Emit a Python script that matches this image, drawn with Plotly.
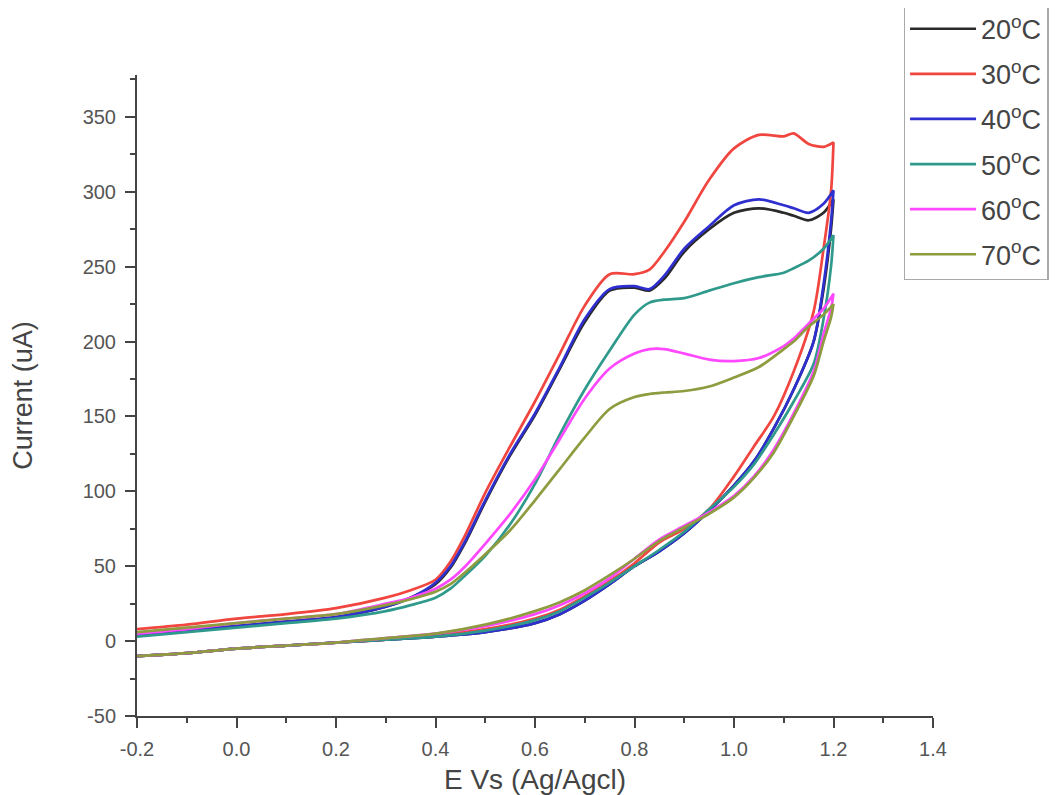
import plotly.graph_objects as go

# Forward (anodic) scan potentials, V
E_fwd = [-0.2, -0.1, 0.0, 0.1, 0.2, 0.3, 0.35, 0.4, 0.43, 0.46, 0.5, 0.55, 0.6, 0.65, 0.7,
         0.75, 0.8, 0.83, 0.86, 0.9, 0.95, 1.0, 1.05, 1.1, 1.12, 1.15, 1.18, 1.2]
# Reverse scan potentials, V
E_rev = [1.2, 1.195, 1.18, 1.16, 1.12, 1.08, 1.04, 1.0, 0.95, 0.9, 0.85, 0.8, 0.75,
         0.7, 0.65, 0.6, 0.5, 0.4, 0.3, 0.2, 0.1, 0.0, -0.1, -0.2]

labels = ["20<sup>o</sup>C", "30<sup>o</sup>C", "40<sup>o</sup>C",
          "50<sup>o</sup>C", "60<sup>o</sup>C", "70<sup>o</sup>C"]

x_ticks = [-0.2, 0.0, 0.2, 0.4, 0.6, 0.8, 1.0, 1.2, 1.4]
x_ticktext = ["-0.2", "0.0", "0.2", "0.4", "0.6", "0.8", "1.0", "1.2", "1.4"]
y_ticks = [-50, 0, 50, 100, 150, 200, 250, 300, 350]
y_ticktext = ["-50", "0", "50", "100", "150", "200", "250", "300", "350"]

# Current (uA), forward scan
I20_fwd = [4, 7, 10, 13, 16, 23, 29, 38, 49, 66, 93, 124, 151, 182, 213, 234, 236, 234, 242, 260, 275, 286, 289, 286, 284, 281, 286, 295]
I30_fwd = [8, 11, 15, 18, 22, 29, 34, 41, 53, 71, 99, 130, 160, 192, 224, 245, 245, 248, 260, 280, 308, 329, 338, 337, 339, 332, 330, 333]
I40_fwd = [4, 7, 10, 13, 16, 23, 29, 39, 50, 67, 94, 125, 152, 183, 215, 235, 237, 235, 244, 262, 277, 291, 295, 291, 289, 286, 292, 301]
I50_fwd = [3, 6, 9, 12, 15, 20, 24, 29, 35, 44, 57, 78, 105, 138, 168, 194, 218, 226, 228, 229, 234, 239, 243, 246, 249, 254, 262, 271]
I60_fwd = [5, 8, 12, 15, 18, 25, 29, 35, 41, 50, 65, 85, 108, 135, 162, 182, 192, 195, 195, 192, 188, 187, 189, 197, 202, 212, 222, 232]
I70_fwd = [6, 9, 12, 15, 18, 24, 28, 33, 38, 46, 58, 74, 94, 115, 136, 155, 163, 165, 166, 167, 170, 176, 183, 195, 200, 210, 218, 225]

# Current (uA), reverse scan
I20_rev = [295, 275, 235, 200, 168, 142, 120, 104, 87, 72, 60, 50, 38, 27, 18, 12, 6, 3, 1, -1, -3, -5, -8, -10]
I30_rev = [333, 300, 262, 220, 180, 150, 130, 110, 88, 75, 66, 52, 40, 30, 21, 15, 8, 4, 1, -1, -3, -5, -8, -10]
I40_rev = [301, 280, 238, 200, 168, 142, 120, 104, 87, 72, 60, 50, 38, 27, 18, 12, 6, 3, 1, -1, -3, -5, -8, -10]
I50_rev = [271, 250, 215, 185, 160, 138, 118, 103, 88, 73, 61, 50, 39, 29, 20, 14, 7, 3, 1, -1, -3, -5, -8, -10]
I60_rev = [232, 222, 205, 180, 152, 128, 110, 97, 86, 77, 68, 55, 42, 32, 24, 18, 10, 5, 2, -1, -3, -5, -8, -10]
I70_rev = [225, 216, 200, 177, 150, 126, 109, 96, 85, 76, 67, 55, 44, 34, 26, 20, 11, 5, 2, -1, -3, -5, -8, -10]

colors = ["#2a2a2a", "#f0463f", "#2f2fd0", "#2f9a8c", "#ff48ff", "#8e9b3f"]

fwd = [I20_fwd, I30_fwd, I40_fwd, I50_fwd, I60_fwd, I70_fwd]
rev = [I20_rev, I30_rev, I40_rev, I50_rev, I60_rev, I70_rev]

fig = go.Figure()
for i in range(6):
    fig.add_trace(go.Scatter(
        x=E_fwd + E_rev, y=fwd[i] + rev[i], mode="lines", name=labels[i],
        legendgroup=f"g{i}",
        line=dict(color=colors[i], width=2.7, shape="spline", smoothing=0.8),
    ))

FONT = "Liberation Sans, Arial"
axis_common = dict(
    showline=True, linecolor="#444", linewidth=2, ticks="outside", tickcolor="#444",
    ticklen=10, tickwidth=2, showgrid=False, zeroline=False, automargin=False,
    tickfont=dict(family=FONT, size=20, color="#555"),
    mirror=False,
)

fig.update_xaxes(range=[-0.2, 1.4], tickmode="array", tickvals=x_ticks, ticktext=x_ticktext,
                 ticklabelstandoff=4,
                 title=dict(text="E Vs (Ag/Agcl)", standoff=44,
                            font=dict(family=FONT, size=28, color="#444")),
                 minor=dict(ticks="outside", dtick=0.1, tick0=-0.2, ticklen=5, tickcolor="#444", tickwidth=2),
                 **axis_common)
fig.update_yaxes(range=[-50, 378], tickmode="array", tickvals=y_ticks, ticktext=y_ticktext,
                 ticklabelstandoff=5,
                 title=dict(text="Current (uA)", standoff=44,
                            font=dict(family=FONT, size=27, color="#444")),
                 minor=dict(ticks="outside", dtick=25, tick0=0, ticklen=5, tickcolor="#444", tickwidth=2),
                 **axis_common)

fig.update_layout(
    width=1049, height=787,
    margin=dict(l=129, r=124, t=67, b=79, autoexpand=False),
    plot_bgcolor="white", paper_bgcolor="white",
    legend=dict(x=0.963, y=1.112, xanchor="left", yanchor="top",
                bordercolor="#aaa", borderwidth=1.5, bgcolor="white",
                font=dict(family=FONT, size=27, color="#444"),
                tracegroupgap=7, itemwidth=66),
)

fig.write_html("out.html")
